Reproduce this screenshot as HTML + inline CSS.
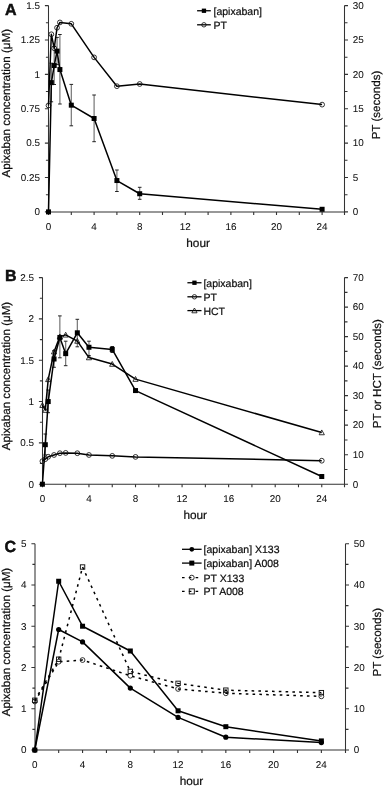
<!DOCTYPE html><html><head><meta charset="utf-8"><style>html,body{margin:0;padding:0;background:#fff;}svg{display:block;text-rendering:geometricPrecision;} text{stroke:#000;stroke-width:0.2px;} .k text{stroke-width:0.05px;} text.L{stroke-width:0.45px;}</style></head><body>
<svg width="385" height="787" viewBox="0 0 385 787" font-family='"Liberation Sans", Arial, Helvetica, sans-serif' fill="#111">
<path d="M48.5 5.6V211.9H344.5V5.6" fill="none" stroke="#333" stroke-width="1.05"/>
<path d="M44.9 211.9H48.5M45.9 194.71H48.5M44.9 177.52H48.5M45.9 160.32H48.5M44.9 143.13H48.5M45.9 125.94H48.5M44.9 108.75H48.5M45.9 91.56H48.5M44.9 74.37H48.5M45.9 57.18H48.5M44.9 39.98H48.5M45.9 22.79H48.5M44.9 5.6H48.5M344.5 211.9H348M344.5 194.71H347.5M344.5 177.52H348M344.5 160.32H347.5M344.5 143.13H348M344.5 125.94H347.5M344.5 108.75H348M344.5 91.56H347.5M344.5 74.37H348M344.5 57.18H347.5M344.5 39.98H348M344.5 22.79H347.5M344.5 5.6H348M48.5 211.9V214.9M71.3 211.9V214.9M94.1 211.9V214.9M116.9 211.9V214.9M139.7 211.9V214.9M162.5 211.9V214.9M185.3 211.9V214.9M208.1 211.9V214.9M230.9 211.9V214.9M253.7 211.9V214.9M276.5 211.9V214.9M299.3 211.9V214.9M322.1 211.9V214.9M344.5 211.9V214.9" stroke="#333" stroke-width="1.1" fill="none"/>
<g font-size="9.9" class="k"><text x="40.1" y="215.2" text-anchor="end">0</text><text x="40.1" y="180.82" text-anchor="end">0.25</text><text x="40.1" y="146.43" text-anchor="end">0.5</text><text x="40.1" y="112.05" text-anchor="end">0.75</text><text x="40.1" y="77.67" text-anchor="end">1</text><text x="40.1" y="43.28" text-anchor="end">1.25</text><text x="40.1" y="8.9" text-anchor="end">1.5</text><text x="352.7" y="215.2">0</text><text x="352.7" y="180.82">5</text><text x="352.7" y="146.43">10</text><text x="352.7" y="112.05">15</text><text x="352.7" y="77.67">20</text><text x="352.7" y="43.28">25</text><text x="352.7" y="8.9">30</text><text x="48.5" y="229.7" text-anchor="middle">0</text><text x="94.1" y="229.7" text-anchor="middle">4</text><text x="139.7" y="229.7" text-anchor="middle">8</text><text x="185.3" y="229.7" text-anchor="middle">12</text><text x="230.9" y="229.7" text-anchor="middle">16</text><text x="276.5" y="229.7" text-anchor="middle">20</text><text x="322.1" y="229.7" text-anchor="middle">24</text></g>
<text x="198.1" y="246.9" text-anchor="middle" font-size="11.8">hour</text>
<text transform="translate(10.2 103.2) rotate(-90)" text-anchor="middle" font-size="11.6">Apixaban concentration (μM)</text>
<text transform="translate(380.4 105) rotate(-90)" text-anchor="middle" font-size="11.6">PT (seconds)</text>
<text x="5" y="14.7" font-size="16" font-weight="bold" class="L">A</text>
<path d="M51.35 63.2V101.8M54.2 46.5V84.5M57.05 37.4V64.6M59.9 34.5V104M71.3 84.4V125.8M94.1 95V141.7M116.9 170V191.5M139.7 187.3V199.3" stroke="#707070" stroke-width="1.15" fill="none"/>
<path d="M49.55 63.2h3.6M49.55 101.8h3.6M52.4 46.5h3.6M52.4 84.5h3.6M55.25 37.4h3.6M55.25 64.6h3.6M58.1 34.5h3.6M58.1 104h3.6M69.5 84.4h3.6M69.5 125.8h3.6M92.3 95h3.6M92.3 141.7h3.6M115.1 170h3.6M115.1 191.5h3.6M137.9 187.3h3.6M137.9 199.3h3.6" stroke="#222" stroke-width="1" fill="none"/>
<path d="M48.5 105.45L51.35 34.28L54.2 48.24L57.05 27.74L59.9 22.45L71.3 23.82L94.1 57.38L116.9 86.19L139.7 83.99L322.1 104.62" fill="none" stroke="#000" stroke-width="1.5" stroke-linejoin="round"/>
<circle cx="48.5" cy="105.45" r="2.4" fill="none" stroke="#111" stroke-width="0.85"/><circle cx="51.35" cy="34.28" r="2.4" fill="none" stroke="#111" stroke-width="0.85"/><circle cx="54.2" cy="48.24" r="2.4" fill="none" stroke="#111" stroke-width="0.85"/><circle cx="57.05" cy="27.74" r="2.4" fill="none" stroke="#111" stroke-width="0.85"/><circle cx="59.9" cy="22.45" r="2.4" fill="none" stroke="#111" stroke-width="0.85"/><circle cx="71.3" cy="23.82" r="2.4" fill="none" stroke="#111" stroke-width="0.85"/><circle cx="94.1" cy="57.38" r="2.4" fill="none" stroke="#111" stroke-width="0.85"/><circle cx="116.9" cy="86.19" r="2.4" fill="none" stroke="#111" stroke-width="0.85"/><circle cx="139.7" cy="83.99" r="2.4" fill="none" stroke="#111" stroke-width="0.85"/><circle cx="322.1" cy="104.62" r="2.4" fill="none" stroke="#111" stroke-width="0.85"/>
<path d="M48.5 211.9L51.35 82.62L54.2 65.56L57.05 51.12L59.9 69.55L71.3 105.17L94.1 118.51L116.9 180.54L139.7 193.75L322.1 209.29" fill="none" stroke="#000" stroke-width="1.5" stroke-linejoin="round"/>
<rect x="46" y="209.4" width="5" height="5" fill="#000"/><rect x="48.85" y="80.12" width="5" height="5" fill="#000"/><rect x="51.7" y="63.06" width="5" height="5" fill="#000"/><rect x="54.55" y="48.62" width="5" height="5" fill="#000"/><rect x="57.4" y="67.05" width="5" height="5" fill="#000"/><rect x="68.8" y="102.67" width="5" height="5" fill="#000"/><rect x="91.6" y="116.01" width="5" height="5" fill="#000"/><rect x="114.4" y="178.04" width="5" height="5" fill="#000"/><rect x="137.2" y="191.25" width="5" height="5" fill="#000"/><rect x="319.6" y="206.79" width="5" height="5" fill="#000"/>
<path d="M197.1 10.75H210.8" stroke="#000" stroke-width="1.3"/>
<rect x="201.8" y="8.6" width="4.3" height="4.3" fill="#000"/>
<text x="213.5" y="14.75" font-size="10.5">[apixaban]</text>
<path d="M197.1 24.8H210.8" stroke="#000" stroke-width="1.3"/>
<circle cx="203.95" cy="24.8" r="2.21" fill="none" stroke="#111" stroke-width="0.85"/>
<text x="213.5" y="28.8" font-size="10.5">PT</text>
<path d="M42.5 277.6V484.2H344.5V277.6" fill="none" stroke="#333" stroke-width="1.05"/>
<path d="M38.9 484.2H42.5M39.9 463.54H42.5M38.9 442.88H42.5M39.9 422.22H42.5M38.9 401.56H42.5M39.9 380.9H42.5M38.9 360.24H42.5M39.9 339.58H42.5M38.9 318.92H42.5M39.9 298.26H42.5M38.9 277.6H42.5M344.5 484.2H348M344.5 469.44H347.5M344.5 454.69H348M344.5 439.93H347.5M344.5 425.17H348M344.5 410.41H347.5M344.5 395.66H348M344.5 380.9H347.5M344.5 366.14H348M344.5 351.39H347.5M344.5 336.63H348M344.5 321.87H347.5M344.5 307.11H348M344.5 292.36H347.5M344.5 277.6H348M42.5 484.2V487.2M65.68 484.2V487.2M88.96 484.2V487.2M112.24 484.2V487.2M135.52 484.2V487.2M158.8 484.2V487.2M182.08 484.2V487.2M205.36 484.2V487.2M228.64 484.2V487.2M251.92 484.2V487.2M275.2 484.2V487.2M298.48 484.2V487.2M321.76 484.2V487.2M344.5 484.2V487.2" stroke="#333" stroke-width="1.1" fill="none"/>
<g font-size="9.9" class="k"><text x="34.1" y="487.5" text-anchor="end">0</text><text x="34.1" y="446.18" text-anchor="end">0.5</text><text x="34.1" y="404.86" text-anchor="end">1</text><text x="34.1" y="363.54" text-anchor="end">1.5</text><text x="34.1" y="322.22" text-anchor="end">2</text><text x="34.1" y="280.9" text-anchor="end">2.5</text><text x="352.7" y="487.5">0</text><text x="352.7" y="457.99">10</text><text x="352.7" y="428.47">20</text><text x="352.7" y="398.96">30</text><text x="352.7" y="369.44">40</text><text x="352.7" y="339.93">50</text><text x="352.7" y="310.41">60</text><text x="352.7" y="280.9">70</text><text x="42.4" y="502" text-anchor="middle">0</text><text x="88.96" y="502" text-anchor="middle">4</text><text x="135.52" y="502" text-anchor="middle">8</text><text x="182.08" y="502" text-anchor="middle">12</text><text x="228.64" y="502" text-anchor="middle">16</text><text x="275.2" y="502" text-anchor="middle">20</text><text x="321.76" y="502" text-anchor="middle">24</text></g>
<text x="195.2" y="519.2" text-anchor="middle" font-size="11.8">hour</text>
<text transform="translate(10.2 376) rotate(-90)" text-anchor="middle" font-size="11.6">Apixaban concentration (μM)</text>
<text transform="translate(380.6 373.7) rotate(-90)" text-anchor="middle" font-size="11.6">PT or HCT (seconds)</text>
<text x="5" y="280.6" font-size="16" font-weight="bold" class="L">B</text>
<path d="M45.31 434V455M48.22 390V412.7M54.04 350.6V367.3M59.86 315.9V357.8M65.68 341.2V365.7M77.32 319.3V346.8M88.96 341.2V355.6M112.24 346.5V352.5" stroke="#707070" stroke-width="1.15" fill="none"/>
<path d="M43.51 434h3.6M43.51 455h3.6M46.42 390h3.6M46.42 412.7h3.6M52.24 350.6h3.6M52.24 367.3h3.6M58.06 315.9h3.6M58.06 357.8h3.6M63.88 341.2h3.6M63.88 365.7h3.6M75.52 319.3h3.6M75.52 346.8h3.6M87.16 341.2h3.6M87.16 355.6h3.6M110.44 346.5h3.6M110.44 352.5h3.6" stroke="#222" stroke-width="1" fill="none"/>
<path d="M42.4 461.18L45.31 459.11L48.22 456.75L54.04 454.98L59.86 453.21L65.68 452.91L77.32 453.21L88.96 454.98L112.24 455.87L135.52 456.9L321.76 460.71" fill="none" stroke="#000" stroke-width="1.5" stroke-linejoin="round"/>
<circle cx="42.4" cy="461.18" r="2.4" fill="none" stroke="#111" stroke-width="0.85"/><circle cx="45.31" cy="459.11" r="2.4" fill="none" stroke="#111" stroke-width="0.85"/><circle cx="48.22" cy="456.75" r="2.4" fill="none" stroke="#111" stroke-width="0.85"/><circle cx="54.04" cy="454.98" r="2.4" fill="none" stroke="#111" stroke-width="0.85"/><circle cx="59.86" cy="453.21" r="2.4" fill="none" stroke="#111" stroke-width="0.85"/><circle cx="65.68" cy="452.91" r="2.4" fill="none" stroke="#111" stroke-width="0.85"/><circle cx="77.32" cy="453.21" r="2.4" fill="none" stroke="#111" stroke-width="0.85"/><circle cx="88.96" cy="454.98" r="2.4" fill="none" stroke="#111" stroke-width="0.85"/><circle cx="112.24" cy="455.87" r="2.4" fill="none" stroke="#111" stroke-width="0.85"/><circle cx="135.52" cy="456.9" r="2.4" fill="none" stroke="#111" stroke-width="0.85"/><circle cx="321.76" cy="460.71" r="2.4" fill="none" stroke="#111" stroke-width="0.85"/>
<path d="M42.4 405.25L45.31 410.12L48.22 379.42L54.04 351.68L59.86 336.63L65.68 334.86L77.32 341.06L88.96 357.58L112.24 364.08L135.52 379.13L321.76 432.55" fill="none" stroke="#000" stroke-width="1.5" stroke-linejoin="round"/>
<path d="M42.4 402.65L45 407.45H39.8Z" fill="none" stroke="#111" stroke-width="0.85"/><path d="M45.31 407.52L47.91 412.32H42.71Z" fill="none" stroke="#111" stroke-width="0.85"/><path d="M48.22 376.82L50.82 381.62H45.62Z" fill="none" stroke="#111" stroke-width="0.85"/><path d="M54.04 349.08L56.64 353.88H51.44Z" fill="none" stroke="#111" stroke-width="0.85"/><path d="M59.86 334.03L62.46 338.83H57.26Z" fill="none" stroke="#111" stroke-width="0.85"/><path d="M65.68 332.26L68.28 337.06H63.08Z" fill="none" stroke="#111" stroke-width="0.85"/><path d="M77.32 338.46L79.92 343.26H74.72Z" fill="none" stroke="#111" stroke-width="0.85"/><path d="M88.96 354.98L91.56 359.78H86.36Z" fill="none" stroke="#111" stroke-width="0.85"/><path d="M112.24 361.48L114.84 366.28H109.64Z" fill="none" stroke="#111" stroke-width="0.85"/><path d="M135.52 376.53L138.12 381.33H132.92Z" fill="none" stroke="#111" stroke-width="0.85"/><path d="M321.76 429.95L324.36 434.75H319.16Z" fill="none" stroke="#111" stroke-width="0.85"/>
<path d="M42.4 484.2L45.31 444.7L48.22 401.56L54.04 359L59.86 337.43L65.68 353.63L77.32 332.8L88.96 347.27L112.24 349.41L135.52 390.57L321.76 476.51" fill="none" stroke="#000" stroke-width="1.5" stroke-linejoin="round"/>
<rect x="39.9" y="481.7" width="5" height="5" fill="#000"/><rect x="42.81" y="442.2" width="5" height="5" fill="#000"/><rect x="45.72" y="399.06" width="5" height="5" fill="#000"/><rect x="51.54" y="356.5" width="5" height="5" fill="#000"/><rect x="57.36" y="334.93" width="5" height="5" fill="#000"/><rect x="63.18" y="351.13" width="5" height="5" fill="#000"/><rect x="74.82" y="330.3" width="5" height="5" fill="#000"/><rect x="86.46" y="344.77" width="5" height="5" fill="#000"/><rect x="109.74" y="346.91" width="5" height="5" fill="#000"/><rect x="133.02" y="388.07" width="5" height="5" fill="#000"/><rect x="319.26" y="474.01" width="5" height="5" fill="#000"/>
<path d="M187.4 282.75H201.5" stroke="#000" stroke-width="1.3"/>
<rect x="192.3" y="280.6" width="4.3" height="4.3" fill="#000"/>
<text x="203.4" y="286.75" font-size="10.5">[apixaban]</text>
<path d="M187.4 296.8H201.5" stroke="#000" stroke-width="1.3"/>
<circle cx="194.45" cy="296.8" r="2.21" fill="none" stroke="#111" stroke-width="0.85"/>
<text x="203.4" y="300.8" font-size="10.5">PT</text>
<path d="M187.4 310.6H201.5" stroke="#000" stroke-width="1.3"/>
<path d="M194.45 308L197.05 312.8H191.85Z" fill="none" stroke="#111" stroke-width="0.85"/>
<text x="203.4" y="314.6" font-size="10.5">HCT</text>
<path d="M35 543.7V750H345.5V543.7" fill="none" stroke="#333" stroke-width="1.05"/>
<path d="M31.4 750H35M32.4 729.37H35M31.4 708.74H35M32.4 688.11H35M31.4 667.48H35M32.4 646.85H35M31.4 626.22H35M32.4 605.59H35M31.4 584.96H35M32.4 564.33H35M31.4 543.7H35M345.5 750H349M345.5 729.37H348.5M345.5 708.74H349M345.5 688.11H348.5M345.5 667.48H349M345.5 646.85H348.5M345.5 626.22H349M345.5 605.59H348.5M345.5 584.96H349M345.5 564.33H348.5M345.5 543.7H349M35 750V753M58.68 750V753M82.56 750V753M106.44 750V753M130.32 750V753M154.2 750V753M178.08 750V753M201.96 750V753M225.84 750V753M249.72 750V753M273.6 750V753M297.48 750V753M321.36 750V753M345.5 750V753" stroke="#333" stroke-width="1.1" fill="none"/>
<g font-size="9.9" class="k"><text x="26.6" y="753.3" text-anchor="end">0</text><text x="26.6" y="712.04" text-anchor="end">1</text><text x="26.6" y="670.78" text-anchor="end">2</text><text x="26.6" y="629.52" text-anchor="end">3</text><text x="26.6" y="588.26" text-anchor="end">4</text><text x="26.6" y="547" text-anchor="end">5</text><text x="353.7" y="753.3">0</text><text x="353.7" y="712.04">10</text><text x="353.7" y="670.78">20</text><text x="353.7" y="629.52">30</text><text x="353.7" y="588.26">40</text><text x="353.7" y="547">50</text><text x="34.8" y="767.8" text-anchor="middle">0</text><text x="82.56" y="767.8" text-anchor="middle">4</text><text x="130.32" y="767.8" text-anchor="middle">8</text><text x="178.08" y="767.8" text-anchor="middle">12</text><text x="225.84" y="767.8" text-anchor="middle">16</text><text x="273.6" y="767.8" text-anchor="middle">20</text><text x="321.36" y="767.8" text-anchor="middle">24</text></g>
<text x="191.5" y="785" text-anchor="middle" font-size="11.8">hour</text>
<text transform="translate(10.4 642) rotate(-90)" text-anchor="middle" font-size="11.6">Apixaban concentration (μM)</text>
<text transform="translate(381.4 642.2) rotate(-90)" text-anchor="middle" font-size="11.6">PT (seconds)</text>
<text x="4.5" y="551.8" font-size="16" font-weight="bold" class="L">C</text>
<path d="M34.8 701.48L58.68 661.74L82.56 660.05L130.32 675.73L178.08 688.94L225.84 693.27L321.36 696.36" fill="none" stroke="#000" stroke-width="1.5" stroke-linejoin="round" stroke-dasharray="2.6 4.2"/>
<circle cx="34.8" cy="701.48" r="2.4" fill="none" stroke="#111" stroke-width="0.85"/><circle cx="58.68" cy="661.74" r="2.4" fill="none" stroke="#111" stroke-width="0.85"/><circle cx="82.56" cy="660.05" r="2.4" fill="none" stroke="#111" stroke-width="0.85"/><circle cx="130.32" cy="675.73" r="2.4" fill="none" stroke="#111" stroke-width="0.85"/><circle cx="178.08" cy="688.94" r="2.4" fill="none" stroke="#111" stroke-width="0.85"/><circle cx="225.84" cy="693.27" r="2.4" fill="none" stroke="#111" stroke-width="0.85"/><circle cx="321.36" cy="696.36" r="2.4" fill="none" stroke="#111" stroke-width="0.85"/>
<path d="M34.8 700.28L58.68 659.23L82.56 567.01L130.32 671.4L178.08 683.37L225.84 690.17L321.36 692.65" fill="none" stroke="#000" stroke-width="1.5" stroke-linejoin="round" stroke-dasharray="2.6 4.2"/>
<rect x="32.6" y="698.08" width="4.4" height="4.4" fill="none" stroke="#111" stroke-width="0.95"/><rect x="56.48" y="657.03" width="4.4" height="4.4" fill="none" stroke="#111" stroke-width="0.95"/><rect x="80.36" y="564.81" width="4.4" height="4.4" fill="none" stroke="#111" stroke-width="0.95"/><rect x="128.12" y="669.2" width="4.4" height="4.4" fill="none" stroke="#111" stroke-width="0.95"/><rect x="175.88" y="681.17" width="4.4" height="4.4" fill="none" stroke="#111" stroke-width="0.95"/><rect x="223.64" y="687.97" width="4.4" height="4.4" fill="none" stroke="#111" stroke-width="0.95"/><rect x="319.16" y="690.45" width="4.4" height="4.4" fill="none" stroke="#111" stroke-width="0.95"/>
<path d="M34.8 750L58.68 629.52L82.56 641.9L130.32 688.11L178.08 717.4L225.84 737.21L321.36 742.57" fill="none" stroke="#000" stroke-width="1.5" stroke-linejoin="round"/>
<circle cx="34.8" cy="750" r="2.6" fill="#000"/><circle cx="58.68" cy="629.52" r="2.6" fill="#000"/><circle cx="82.56" cy="641.9" r="2.6" fill="#000"/><circle cx="130.32" cy="688.11" r="2.6" fill="#000"/><circle cx="178.08" cy="717.4" r="2.6" fill="#000"/><circle cx="225.84" cy="737.21" r="2.6" fill="#000"/><circle cx="321.36" cy="742.57" r="2.6" fill="#000"/>
<path d="M34.8 750L58.68 581.25L82.56 626.22L130.32 650.98L178.08 710.8L225.84 726.69L321.36 740.92" fill="none" stroke="#000" stroke-width="1.5" stroke-linejoin="round"/>
<rect x="32.3" y="747.5" width="5" height="5" fill="#000"/><rect x="56.18" y="578.75" width="5" height="5" fill="#000"/><rect x="80.06" y="623.72" width="5" height="5" fill="#000"/><rect x="127.82" y="648.48" width="5" height="5" fill="#000"/><rect x="175.58" y="708.3" width="5" height="5" fill="#000"/><rect x="223.34" y="724.19" width="5" height="5" fill="#000"/><rect x="318.86" y="738.42" width="5" height="5" fill="#000"/>
<path d="M182 549.3H201.6" stroke="#000" stroke-width="1.3"/>
<circle cx="191.8" cy="549.3" r="2.39" fill="#000"/>
<text x="203.6" y="553.3" font-size="10.5">[apixaban] X133</text>
<path d="M182 563.1H201.6" stroke="#000" stroke-width="1.3"/>
<rect x="189.3" y="560.6" width="5" height="5" fill="#000"/>
<text x="203.6" y="567.1" font-size="10.5">[apixaban] A008</text>
<path d="M182 577.6H201.6" stroke="#000" stroke-width="1.3" stroke-dasharray="2.6 4.2"/>
<circle cx="191.8" cy="577.6" r="2.4" fill="none" stroke="#111" stroke-width="0.85"/>
<text x="203.6" y="581.6" font-size="10.5">PT X133</text>
<path d="M182 591.4H201.6" stroke="#000" stroke-width="1.3" stroke-dasharray="2.6 4.2"/>
<rect x="189.27" y="588.87" width="5.06" height="5.06" fill="none" stroke="#111" stroke-width="0.95"/>
<text x="203.6" y="595.4" font-size="10.5">PT A008</text>
</svg></body></html>
